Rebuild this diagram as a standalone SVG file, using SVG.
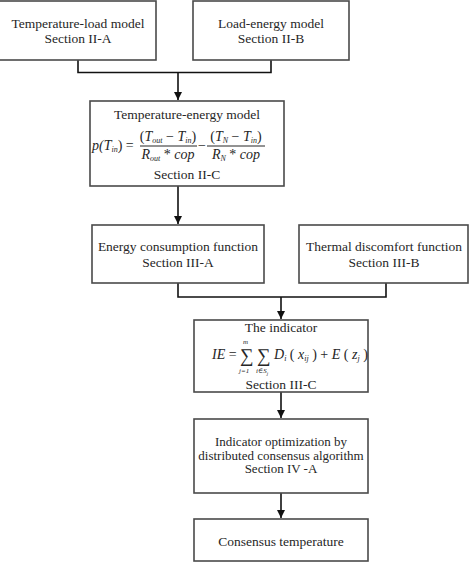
<svg xmlns="http://www.w3.org/2000/svg" width="474" height="562" viewBox="0 0 474 562">
<defs>
<style>
.box{fill:#fff;stroke:#4a4a4a;stroke-width:1.6}
.t{font-family:'Liberation Serif','Times New Roman','DejaVu Serif',serif;font-size:13.5px;fill:#262626;text-anchor:middle}
.m{font-family:'Liberation Serif','Times New Roman','DejaVu Serif',serif;font-size:14px;fill:#262626;font-style:italic}
.mn{font-style:normal}
.s{font-size:8px}
.c{fill:none;stroke:#111;stroke-width:1.6}
</style>
<marker id="ah" viewBox="0 0 10 10" refX="10" refY="5" markerWidth="5" markerHeight="5" orient="auto" markerUnits="strokeWidth">
<path d="M0,0 L10,5 L0,10 z" fill="#111"/>
</marker>
</defs>
<rect width="474" height="562" fill="#fff"/>
<g id="connectors">
<polyline class="c" points="78,60 78,72.5 271,72.5 271,60"/>
<line class="c" x1="178" y1="72.5" x2="178" y2="100" marker-end="url(#ah)"/>
<line class="c" x1="178" y1="186" x2="178" y2="224" marker-end="url(#ah)"/>
<polyline class="c" points="178,283 178,297 386,297 386,283"/>
<line class="c" x1="281" y1="297" x2="281" y2="319" marker-end="url(#ah)"/>
<line class="c" x1="281" y1="392" x2="281" y2="418" marker-end="url(#ah)"/>
<line class="c" x1="281" y1="493" x2="281" y2="518" marker-end="url(#ah)"/>
</g>
<g id="n1">
<rect class="box" x="-1" y="1" width="157" height="59"/>
<text class="t" x="78" y="28" font-family="Liberation Serif, serif">Temperature-load model</text>
<text class="t" x="78" y="43" font-family="Liberation Serif, serif">Section  II-A</text>
</g>
<g id="n2">
<rect class="box" x="193" y="1" width="156" height="59"/>
<text class="t" x="271" y="28">Load-energy model</text>
<text class="t" x="271" y="43">Section  II-B</text>
</g>
<g id="n3">
<rect class="box" x="90" y="101" width="194" height="85"/>
<text class="t" x="187" y="119">Temperature-energy model</text>
<text class="m" x="92" y="150">p(T<tspan class="s" dy="2">in</tspan><tspan dy="-2" class="mn">) =</tspan></text>
<text class="m" x="168" y="141" text-anchor="middle"><tspan class="mn">(</tspan>T<tspan class="s" dy="2">out</tspan><tspan dy="-2" class="mn"> − </tspan>T<tspan class="s" dy="2">in</tspan><tspan dy="-2" class="mn">)</tspan></text>
<line x1="140" y1="146" x2="197" y2="146" stroke="#262626" stroke-width="1"/>
<text class="m" x="168" y="159" text-anchor="middle">R<tspan class="s" dy="2">out</tspan><tspan dy="-2" class="mn"> * </tspan>cop</text>
<text class="m" x="202" y="150" text-anchor="middle"><tspan class="mn">−</tspan></text>
<text class="m" x="236" y="141" text-anchor="middle"><tspan class="mn">(</tspan>T<tspan class="s" dy="2">N</tspan><tspan dy="-2" class="mn"> − </tspan>T<tspan class="s" dy="2">in</tspan><tspan dy="-2" class="mn">)</tspan></text>
<line x1="207" y1="146" x2="265" y2="146" stroke="#262626" stroke-width="1"/>
<text class="m" x="236" y="159" text-anchor="middle">R<tspan class="s" dy="2">N</tspan><tspan dy="-2" class="mn"> * </tspan>cop</text>
<text class="t" x="187" y="179">Section  II-C</text>
</g>
<g id="n4">
<rect class="box" x="92" y="225" width="172" height="58"/>
<text class="t" x="178" y="251">Energy consumption  function</text>
<text class="t" x="178" y="267">Section  III-A</text>
</g>
<g id="n5">
<rect class="box" x="299" y="225" width="169" height="58"/>
<text class="t" x="384" y="251">Thermal discomfort function</text>
<text class="t" x="384" y="267">Section  III-B</text>
</g>
<g id="n6">
<rect class="box" x="194" y="320" width="174" height="72"/>
<text class="t" x="281" y="332">The indicator</text>
<text class="m" x="212" y="359">IE <tspan class="mn">=</tspan></text>
<text class="m mn" x="240" y="362" style="font-size:19px">∑</text>
<text class="m mn" x="257" y="362" style="font-size:19px">∑</text>
<text class="m s" x="243" y="344" style="font-size:7px">m</text>
<text class="m s" x="239" y="373" style="font-size:7px">j=1</text>
<text class="m s" x="256" y="373" style="font-size:7px">i∈S<tspan dy="1.5" style="font-size:5px">j</tspan></text>
<text class="m" x="274" y="359">D<tspan class="s" dy="2">i</tspan><tspan dy="-2" class="mn"> ( </tspan>x<tspan class="s" dy="2">ij</tspan><tspan dy="-2" class="mn"> ) + </tspan>E<tspan class="mn"> ( </tspan>z<tspan class="s" dy="2">j</tspan><tspan dy="-2" class="mn"> )</tspan></text>
<text class="t" x="281" y="389">Section  III-C</text>
</g>
<g id="n7">
<rect class="box" x="194" y="419" width="174" height="74"/>
<text class="t" x="281" y="446" style="font-size:13px">Indicator optimization by</text>
<text class="t" x="281" y="459.5" style="font-size:13px">distributed consensus algorithm</text>
<text class="t" x="281" y="473" style="font-size:13px">Section  IV -A</text>
</g>
<g id="n8">
<rect class="box" x="194" y="519" width="174" height="42"/>
<text class="t" x="281" y="546">Consensus temperature</text>
</g>
</svg>
